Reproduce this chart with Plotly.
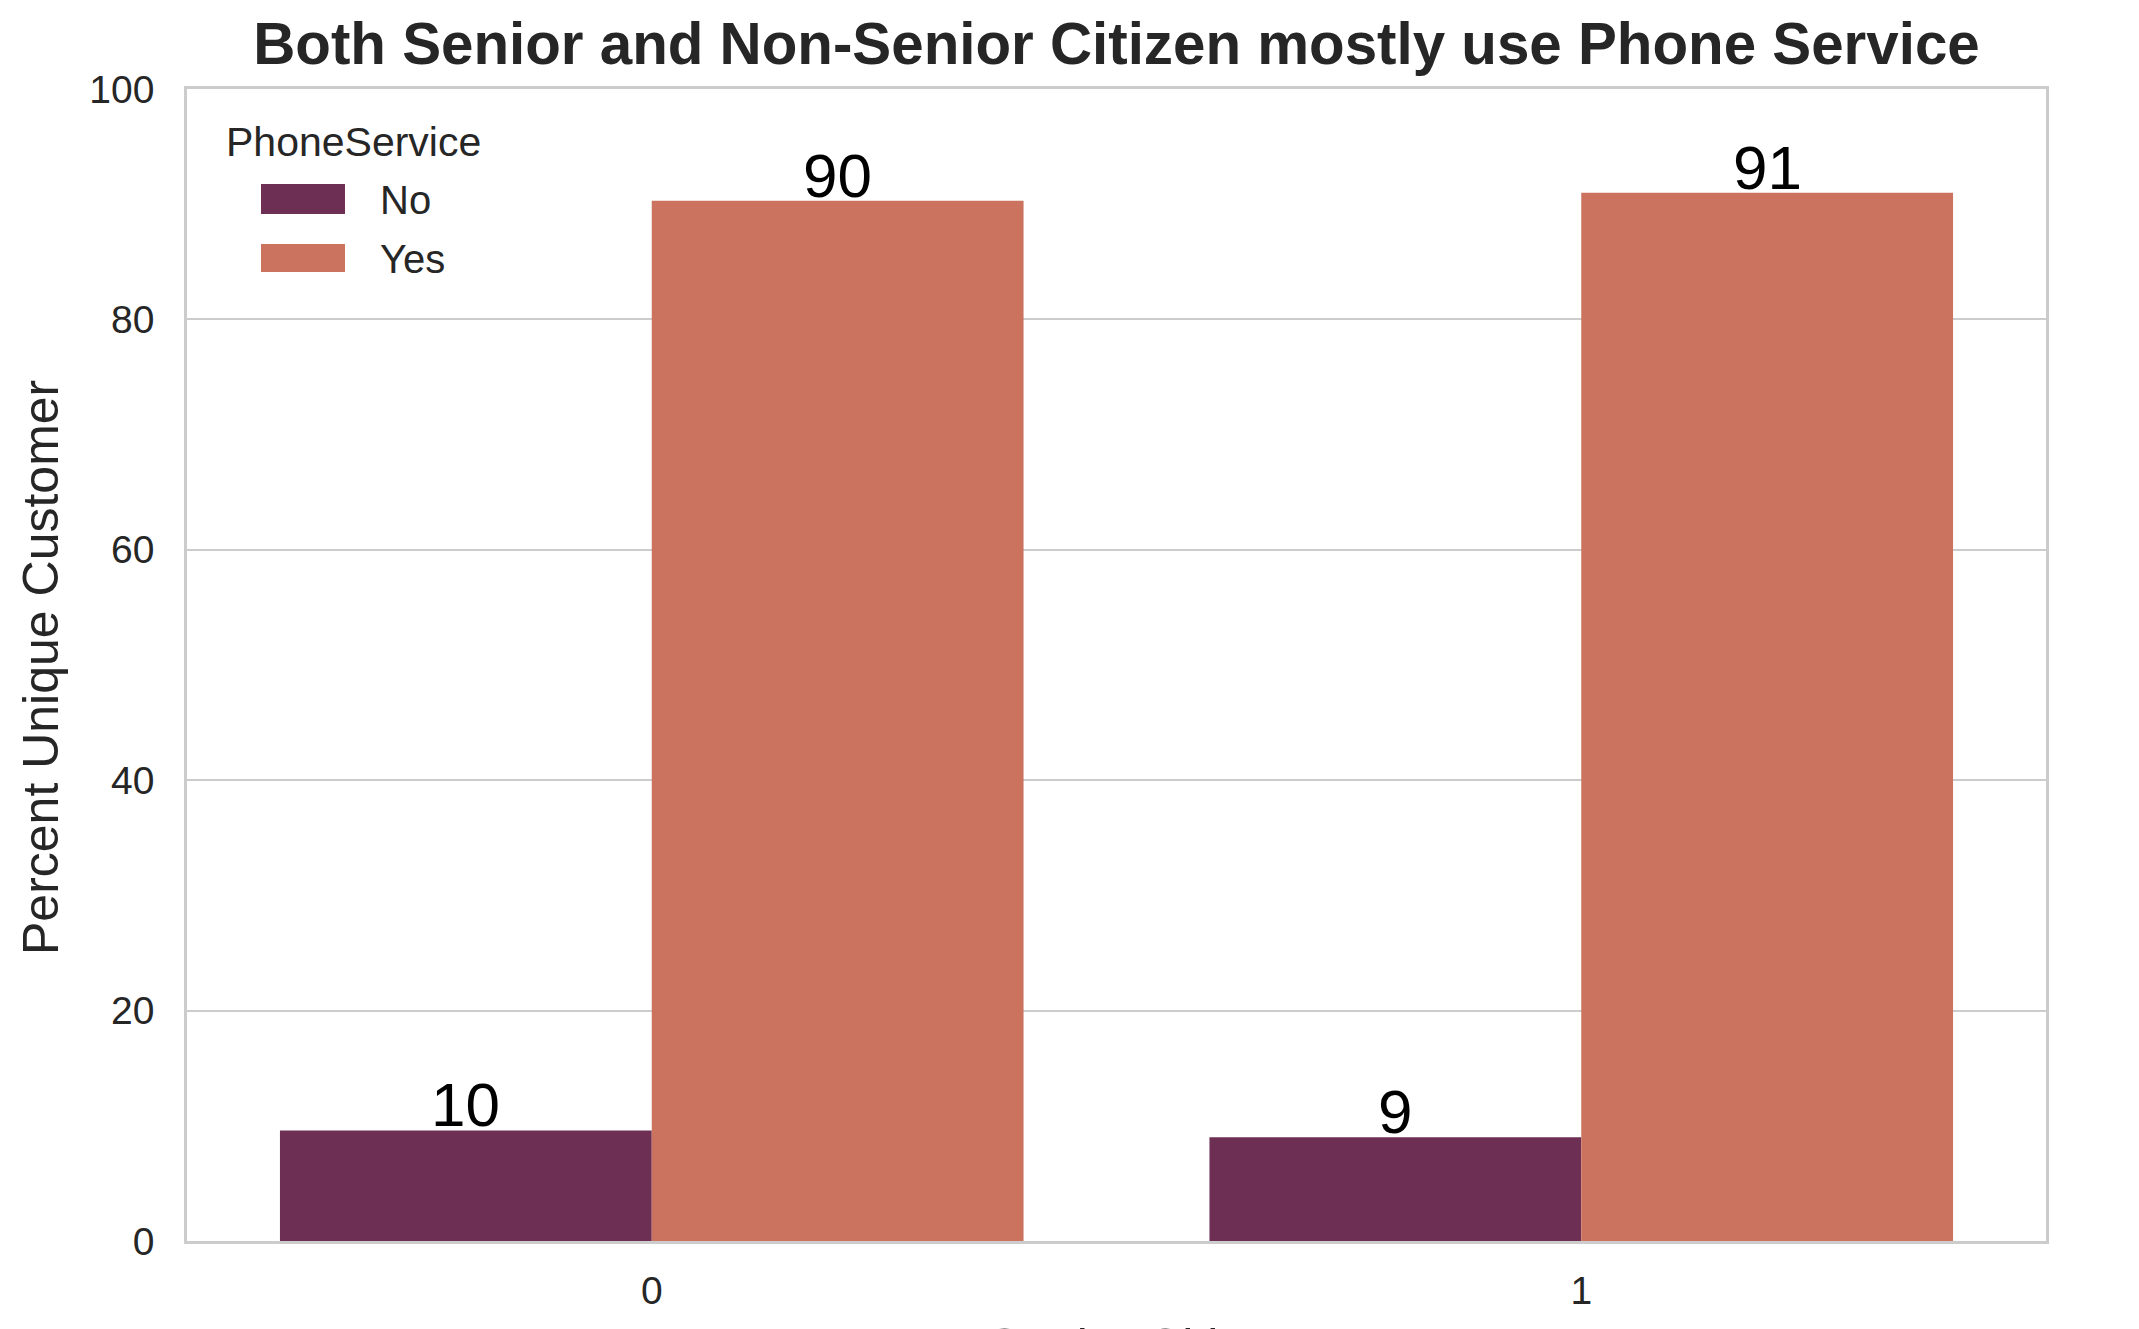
import plotly.graph_objects as go

# ---- data ----
categories = [0, 1]
tick_labels = ["0", "1"]
series_names = ["No", "Yes"]
values_no = [9.6, 9.0]
values_yes = [90.3, 91.0]
colors = ["#6e2f55", "#cb735e"]

title_text = "Both Senior and Non-Senior Citizen mostly use Phone Service"
y_title = "Percent Unique Customer"
x_title = "Is Senior Citizen"
legend_title = "PhoneService"
y_ticks = [0, 20, 40, 60, 80, 100]

FONT = "Liberation Sans, Arial, Helvetica, sans-serif"
TXT = "#262626"

# page is offset by the default 8px body margin
OFF = 8
PAGE_W, PAGE_H = 2139, 1329
W, H = PAGE_W - OFF, PAGE_H - OFF
# plot area in page pixels
PL, PR, PT, PB = 187, 2046, 89, 1241
L, T = PL - OFF, PT - OFF
R, B = PAGE_W - PR, PAGE_H - PB
PW, PH = PR - PL, PB - PT

def px_x(px):
    return (px - PL) / PW

def px_y(py):
    return (PB - py) / PH

series_values = [values_no, values_yes]
offsets = [-0.2, 0.2]

fig = go.Figure()
for name, vals, col in zip(series_names, series_values, colors):
    fig.add_trace(go.Bar(
        x=categories, y=vals, name=name,
        marker=dict(color=col, line=dict(width=0)),
        showlegend=False,
    ))

annotations = []
# bar value labels
for vals, off in zip(series_values, offsets):
    for c, v in zip(categories, vals):
        annotations.append(dict(
            x=c + off, y=v, xref="x", yref="y",
            text=str(int(round(v))), showarrow=False,
            xanchor="center", yanchor="bottom", yshift=-11,
            font=dict(family=FONT, size=62, color="black"),
        ))

# axis titles
annotations.append(dict(
    x=px_x(41), y=px_y(668), xref="paper", yref="paper",
    text=y_title, textangle=-90, showarrow=False,
    xanchor="center", yanchor="middle",
    font=dict(family=FONT, size=50, color=TXT),
))
annotations.append(dict(
    x=0.5, y=px_y(1317), xref="paper", yref="paper",
    text=x_title, showarrow=False,
    xanchor="center", yanchor="top",
    font=dict(family=FONT, size=50, color=TXT),
))

# manual legend
annotations.append(dict(
    x=px_x(224), y=px_y(142), xref="paper", yref="paper",
    text=legend_title, showarrow=False, xanchor="left", yanchor="middle",
    font=dict(family=FONT, size=41, color=TXT),
))
shapes = []
legend_rows = [(184, 214), (244, 272)]
for name, col, (top, bot) in zip(series_names, colors, legend_rows):
    shapes.append(dict(
        type="rect", xref="paper", yref="paper",
        x0=px_x(261), x1=px_x(345), y0=px_y(bot), y1=px_y(top),
        fillcolor=col, line=dict(width=0), layer="above",
    ))
    annotations.append(dict(
        x=px_x(378), y=px_y((top + bot) / 2 + 1), xref="paper", yref="paper",
        text=name, showarrow=False, xanchor="left", yanchor="middle",
        font=dict(family=FONT, size=40, color=TXT),
    ))

fig.update_layout(
    width=W, height=H,
    margin=dict(l=L, r=R, t=T, b=B, autoexpand=False),
    paper_bgcolor="white", plot_bgcolor="white",
    barmode="group", bargap=0.2, bargroupgap=0,
    title=dict(
        text=title_text, x=0.5, xref="paper", xanchor="center",
        y=1 - (44 - OFF) / H, yref="container", yanchor="middle",
        font=dict(family=FONT, size=58.3, color=TXT, weight="bold"),
    ),
    xaxis=dict(
        type="linear", range=[-0.5, 1.5],
        tickvals=categories, ticktext=tick_labels,
        showgrid=False, zeroline=False,
        showline=True, mirror=True, linecolor="#cccccc", linewidth=2.5,
        ticks="outside", ticklen=13, tickcolor="rgba(0,0,0,0)",
        tickfont=dict(family=FONT, size=39, color=TXT),
    ),
    yaxis=dict(
        range=[0, 100], tickvals=y_ticks,
        showgrid=True, gridcolor="#cccccc", gridwidth=2,
        zeroline=False,
        showline=True, mirror=True, linecolor="#cccccc", linewidth=2.5,
        ticks="outside", ticklen=22, tickcolor="rgba(0,0,0,0)",
        tickfont=dict(family=FONT, size=39, color=TXT),
    ),
    annotations=annotations,
    shapes=shapes,
    showlegend=False,
)

fig.write_html("out.html")
